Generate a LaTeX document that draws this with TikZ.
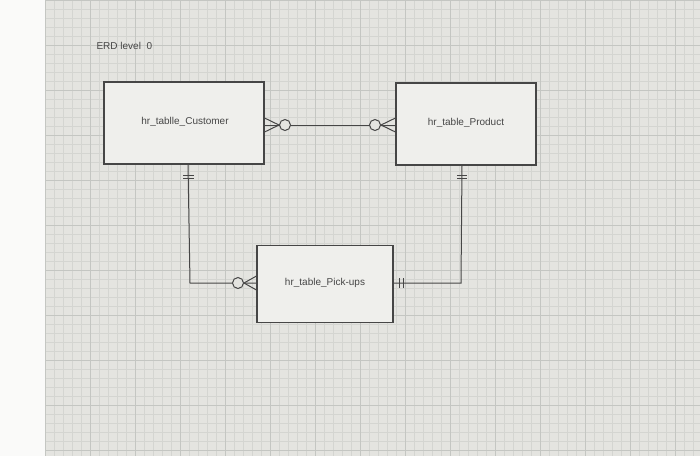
\documentclass[tikz,border=0pt]{standalone}
\usepackage{fontspec}
\setmainfont{Liberation Sans}
\definecolor{bg}{RGB}{228,228,224}
\definecolor{gridc}{RGB}{212,213,209}
\definecolor{gridd}{RGB}{196,198,194}
\definecolor{ink}{RGB}{70,70,70}
\begin{document}
\begin{tikzpicture}[x=1pt,y=-1pt,
  ent/.style={draw=ink,line width=1.1pt,fill=bg!60!white,inner sep=0},
  lnk/.style={draw=ink,line width=1pt},
  lbl/.style={font=\fontsize{10}{12}\selectfont,text=ink}]
\useasboundingbox (0,0) rectangle (700,456);
\fill[bg] (0,0) rectangle (700,456);
\fill[white!80!bg] (0,0) rectangle (45,456);
\foreach \i in {45,54,...,700} \draw[gridc,line width=0.3pt] (\i,0) -- (\i,456);
\foreach \j in {0,9,...,456} \draw[gridc,line width=0.3pt] (45,\j) -- (700,\j);
\foreach \i in {45,90,...,700} \draw[gridd,line width=0.5pt] (\i,0) -- (\i,456);
\foreach \j in {0,45,...,456} \draw[gridd,line width=0.5pt] (45,\j) -- (700,\j);
\node[lbl,anchor=west] (title) at (93,46) {ERD level\ \ 0};
\node[ent,minimum width=160,minimum height=82] (cust) at (184,123) {};
\node[lbl] at (185,122) {hr\_tablle\_Customer};
\node[ent,minimum width=140,minimum height=82] (prod) at (466,124) {};
\node[lbl] at (466,123) {hr\_table\_Product};
\node[ent,minimum width=136,minimum height=77] (pick) at (325,284) {};
\node[lbl] at (325,283) {hr\_table\_Pick-ups};
% top link
\coordinate (c1) at (cust.east |- 0,125);
\coordinate (p1) at (prod.west |- 0,125);
\draw[lnk] (c1) -- (p1);
\fill[bg] (285,125) circle (5.5);
\draw[lnk] (285,125) circle (5.5);
\fill[bg] (375,125) circle (5.5);
\draw[lnk] (375,125) circle (5.5);
\draw[lnk] (c1|-0,118) -- (279,125) -- (c1|-0,132);
\draw[lnk] (p1|-0,118) -- (381,125) -- (p1|-0,132);
% left link
\coordinate (c2) at (188,164);
\coordinate (k1) at (pick.west |- 0,283);
\draw[lnk] (c2) -- (190,283) -- (k1);
\draw[lnk] (183,175) -- (194,175) (183,178) -- (194,178);
\fill[bg] (238,283) circle (5.5);
\draw[lnk] (238,283) circle (5.5);
\draw[lnk] (k1|-0,276) -- (244,283) -- (k1|-0,290);
% right link
\coordinate (p2) at (462,165);
\coordinate (k2) at (pick.east |- 0,283);
\draw[lnk] (p2) -- (461,283) -- (k2);
\draw[lnk] (457,175) -- (467,175) (457,178) -- (467,178);
\draw[lnk] (399,278) -- (399,288) (403,278) -- (403,288);
\end{tikzpicture}
\end{document}
